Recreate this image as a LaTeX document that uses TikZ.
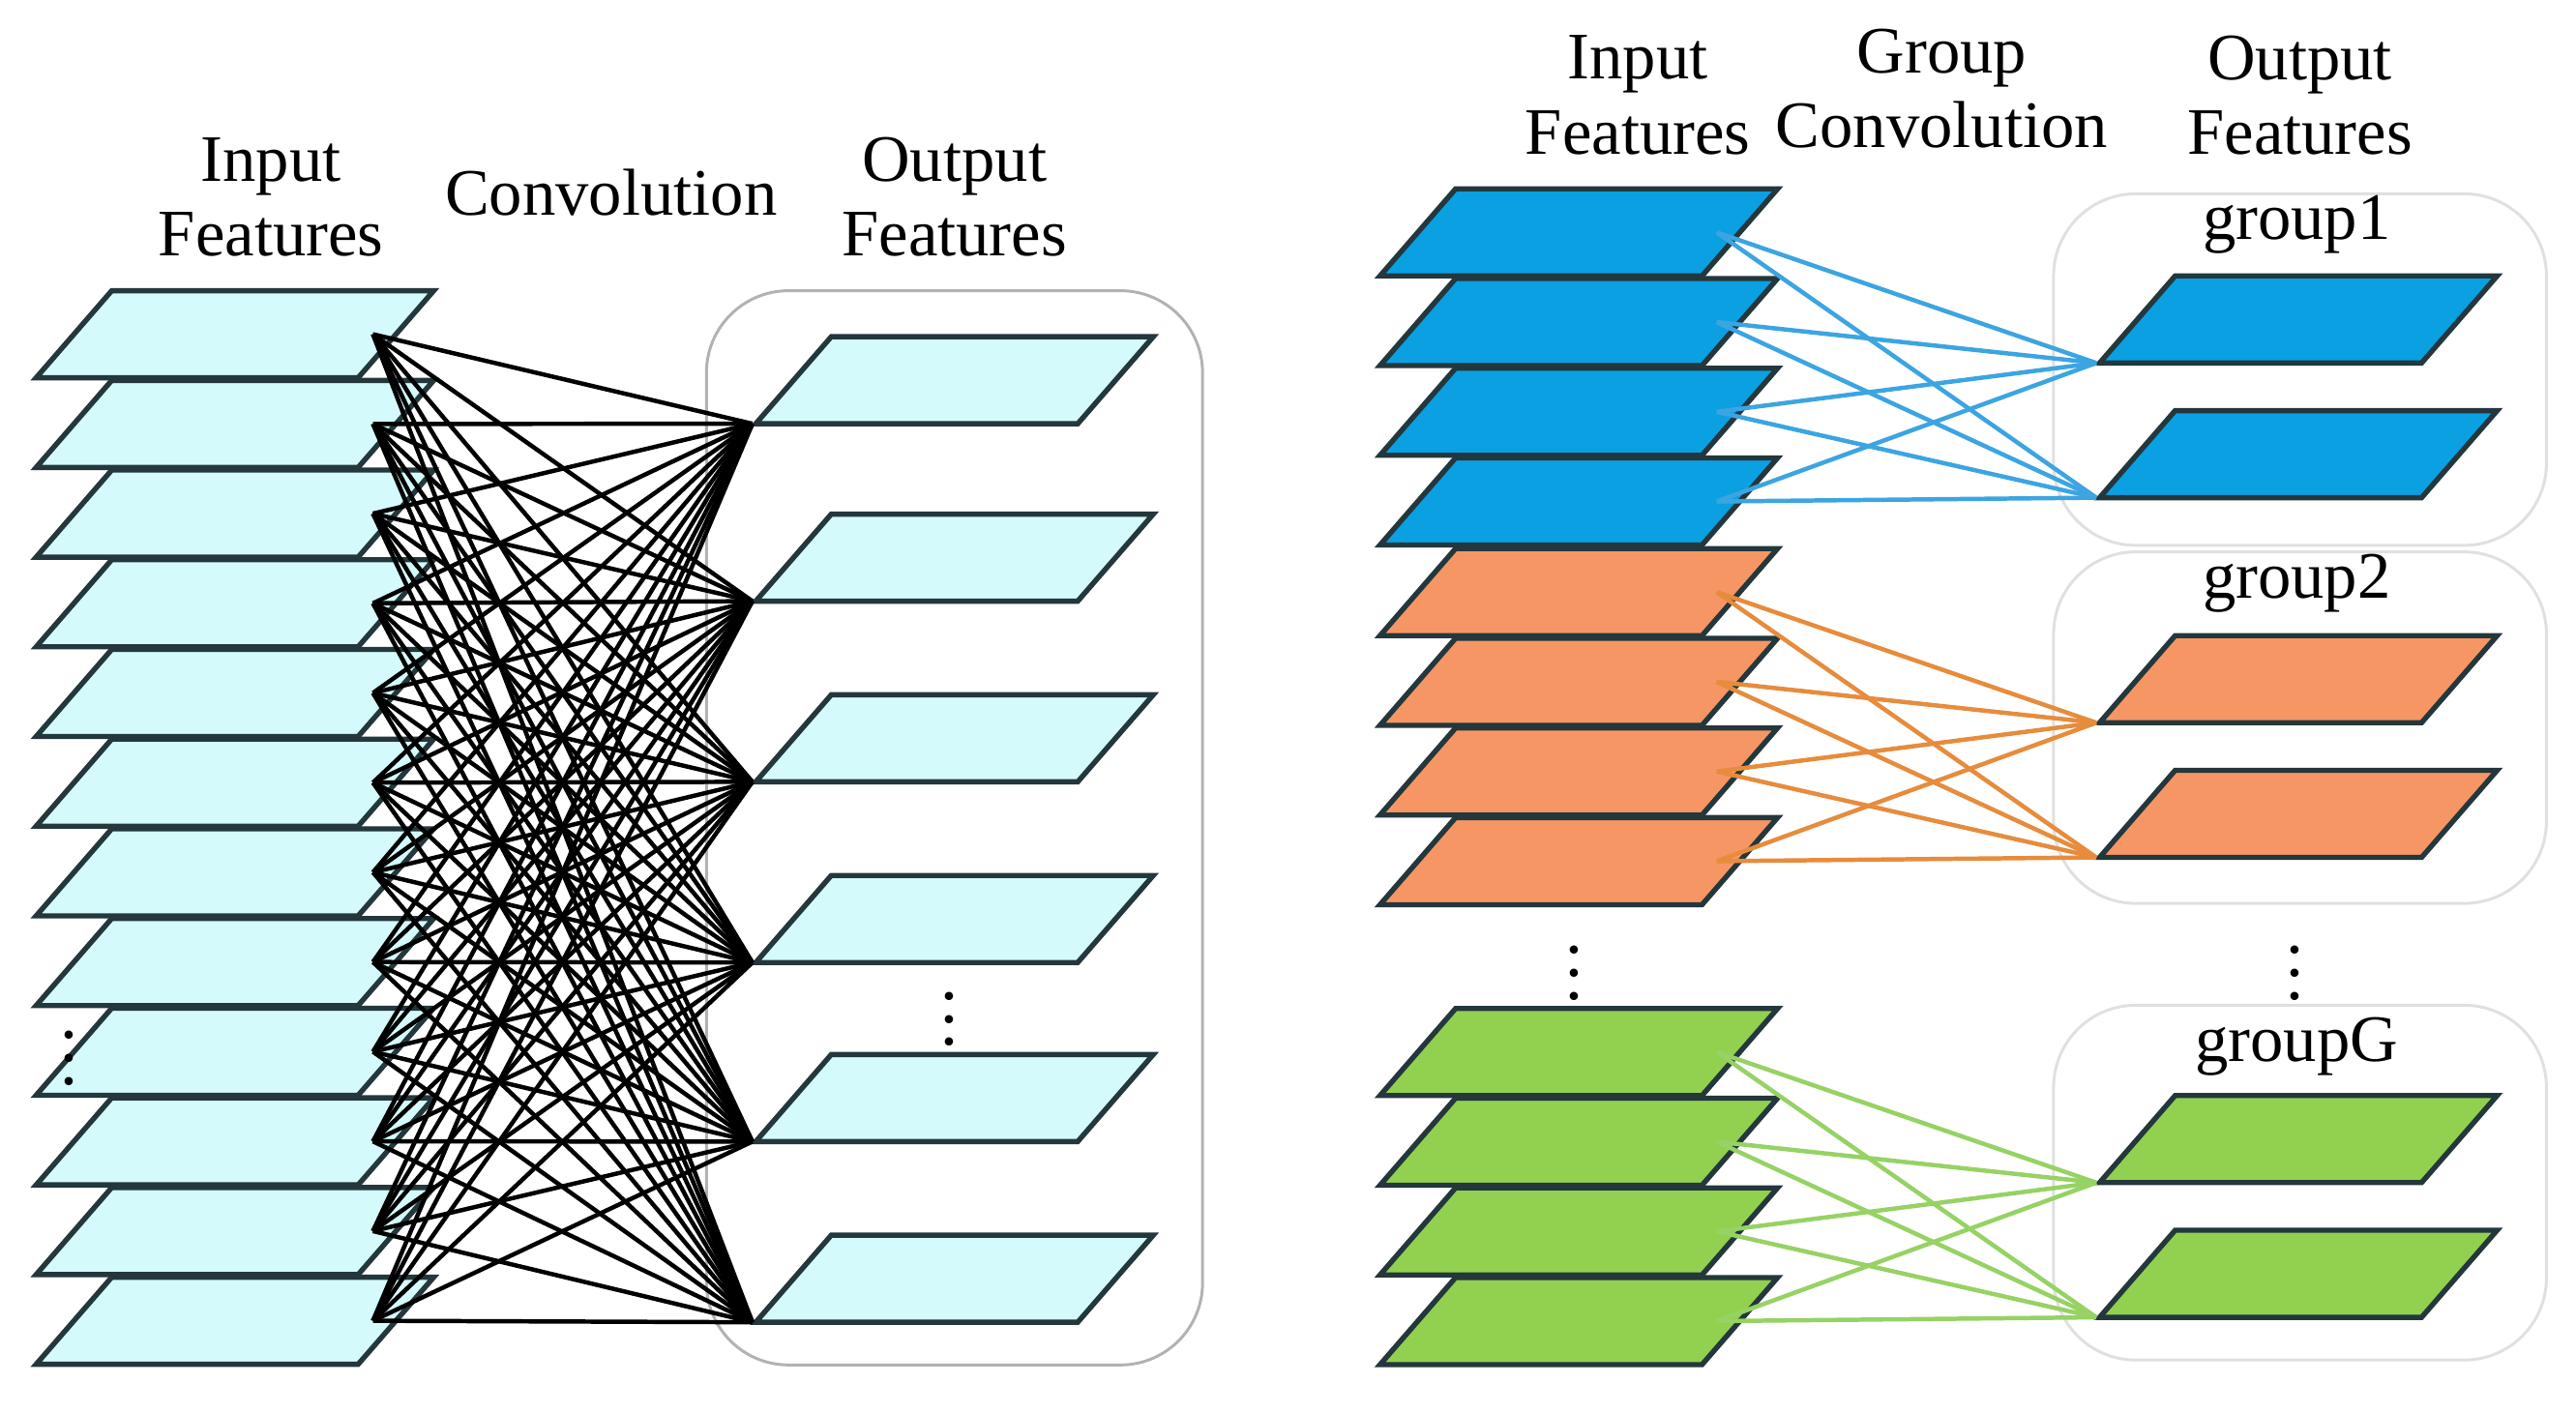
\documentclass[tikz,border=0pt]{standalone}
\usepackage{fontspec}
\setmainfont{Liberation Serif}
\definecolor{cyanF}{RGB}{212,250,252}
\definecolor{blueF}{RGB}{10,160,225}
\definecolor{orangeF}{RGB}{246,150,100}
\definecolor{greenF}{RGB}{146,208,80}
\definecolor{blueL}{RGB}{60,165,225}
\definecolor{orangeL}{RGB}{230,140,60}
\definecolor{greenL}{RGB}{150,210,100}
\definecolor{edge}{RGB}{35,55,60}
\begin{document}
\begin{tikzpicture}[x=0.1mm,y=-0.1mm,
  layer/.style={draw=edge,line width=0.9pt,line join=miter},
  lbl/.style={font=\fontsize{11.5}{13}\selectfont,align=center,inner sep=0pt},
  dots/.style={font=\fontsize{12}{12}\selectfont,inner sep=0pt},
  conn/.style={line width=0.75pt},
  gbox/.style={draw=black!12,rounded corners=5mm,line width=0.5pt}]
\useasboundingbox (0,0) rectangle (1568,860);
\newcommand\plane[4]{%
  \draw[layer,fill=#3] (#1,#2+53) -- ++(196,0) -- ++(46,-53) -- ++(-196,0) -- cycle;
  \coordinate (#4r) at (#1+205,#2+26.5);
  \coordinate (#4l) at (#1-2,#2+53);}
% ---------- left panel ----------
\draw[draw=black!30,rounded corners=5mm,line width=0.5pt] (430,177) rectangle (732,831);
\foreach \i in {0,...,11}{\plane{22}{177+54.6*\i}{cyanF}{in\i}}
\foreach \j/\y in {0/205,1/313,2/423,3/533,4/642,5/752}{\plane{460}{\y}{cyanF}{out\j}}
\foreach \i in {0,...,11}{\foreach \j in {0,...,5}{\draw[conn] (in\i r) -- (out\j l);}}
\node[lbl] (t1) at (165,120) {Input\\Features};
\node[lbl] (t2) at (372,117) {Convolution};
\node[lbl] (t3) at (581,120) {Output\\Features};
\node[dots] (d1) at (42,634) {$\vdots$};
\node[dots] (d2) at (578,610) {$\vdots$};
% ---------- right panel ----------
\draw[gbox] (1250,118) rectangle (1550,332);
\draw[gbox] (1250,336) rectangle (1550,550);
\draw[gbox] (1250,612) rectangle (1550,828);
\foreach \g/\yy/\cf/\cl in {b/115/blueF/blueL,o/334/orangeF/orangeL,g/614/greenF/greenL}{
  \foreach \k in {0,...,3}{\plane{840}{\yy+54.6*\k}{\cf}{gi\g\k}}
  \plane{1278}{\yy+53}{\cf}{go\g0}
  \plane{1278}{\yy+135}{\cf}{go\g1}
  \foreach \k in {0,...,3}{\foreach \m in {0,1}{\draw[conn,draw=\cl] (gi\g\k r) -- (go\g\m l);}}
}
\node[lbl] (r1) at (997,58) {Input\\Features};
\node[lbl] (r2) at (1182,54) {Group\\Convolution};
\node[lbl] (r3) at (1400,58) {Output\\Features};
\node[lbl] (g1) at (1398,137) {group1};
\node[lbl] (g2) at (1398,355) {group2};
\node[lbl] (gG) at (1398,637) {groupG};
\node[dots] (d3) at (958,582) {$\vdots$};
\node[dots] (d4) at (1397,582) {$\vdots$};
\end{tikzpicture}
\end{document}
